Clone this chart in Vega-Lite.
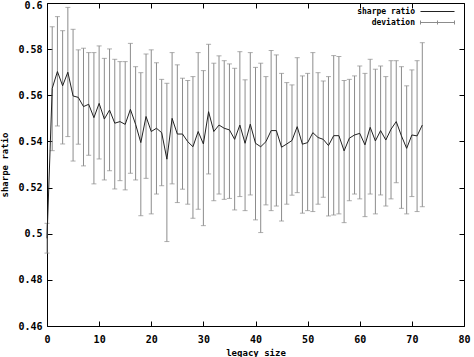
{
  "$schema": "https://vega.github.io/schema/vega-lite/v6.json",
  "width": 417,
  "height": 323,
  "autosize": "none",
  "padding": {"left": 47, "top": 3, "right": 10, "bottom": 31},
  "background": "white",
  "data": {
    "values": [
      {"size": 0, "sharpe": 0.498, "lo": 0.4916, "hi": 0.5045},
      {"size": 1, "sharpe": 0.563, "lo": 0.536, "hi": 0.5897},
      {"size": 2, "sharpe": 0.5703, "lo": 0.5467, "hi": 0.5941},
      {"size": 3, "sharpe": 0.5641, "lo": 0.5389, "hi": 0.588},
      {"size": 4, "sharpe": 0.57, "lo": 0.5421, "hi": 0.5981},
      {"size": 5, "sharpe": 0.5597, "lo": 0.5315, "hi": 0.5886},
      {"size": 6, "sharpe": 0.5591, "lo": 0.5388, "hi": 0.5797},
      {"size": 7, "sharpe": 0.5551, "lo": 0.5294, "hi": 0.5804},
      {"size": 8, "sharpe": 0.5561, "lo": 0.534, "hi": 0.5785},
      {"size": 9, "sharpe": 0.5503, "lo": 0.5216, "hi": 0.5785},
      {"size": 10, "sharpe": 0.5565, "lo": 0.5324, "hi": 0.5814},
      {"size": 11, "sharpe": 0.5497, "lo": 0.5233, "hi": 0.576},
      {"size": 12, "sharpe": 0.5536, "lo": 0.5273, "hi": 0.5801},
      {"size": 13, "sharpe": 0.5479, "lo": 0.5194, "hi": 0.5756},
      {"size": 14, "sharpe": 0.5486, "lo": 0.523, "hi": 0.5746},
      {"size": 15, "sharpe": 0.5474, "lo": 0.519, "hi": 0.5746},
      {"size": 16, "sharpe": 0.5539, "lo": 0.5262, "hi": 0.5825},
      {"size": 17, "sharpe": 0.5474, "lo": 0.5233, "hi": 0.5724},
      {"size": 18, "sharpe": 0.5395, "lo": 0.5078, "hi": 0.5698},
      {"size": 19, "sharpe": 0.5508, "lo": 0.524, "hi": 0.5779},
      {"size": 20, "sharpe": 0.5443, "lo": 0.5086, "hi": 0.5797},
      {"size": 21, "sharpe": 0.5457, "lo": 0.5172, "hi": 0.5741},
      {"size": 22, "sharpe": 0.5438, "lo": 0.5208, "hi": 0.5669},
      {"size": 23, "sharpe": 0.5323, "lo": 0.4966, "hi": 0.5652},
      {"size": 24, "sharpe": 0.55, "lo": 0.5216, "hi": 0.5785},
      {"size": 25, "sharpe": 0.5432, "lo": 0.5135, "hi": 0.5732},
      {"size": 26, "sharpe": 0.5432, "lo": 0.5193, "hi": 0.5674},
      {"size": 27, "sharpe": 0.5399, "lo": 0.5128, "hi": 0.5664},
      {"size": 28, "sharpe": 0.5377, "lo": 0.5067, "hi": 0.5681},
      {"size": 29, "sharpe": 0.5443, "lo": 0.5106, "hi": 0.5785},
      {"size": 30, "sharpe": 0.5389, "lo": 0.5035, "hi": 0.5707},
      {"size": 31, "sharpe": 0.5529, "lo": 0.5259, "hi": 0.5821},
      {"size": 32, "sharpe": 0.5443, "lo": 0.5143, "hi": 0.5739},
      {"size": 33, "sharpe": 0.5471, "lo": 0.5172, "hi": 0.5771},
      {"size": 34, "sharpe": 0.5457, "lo": 0.5149, "hi": 0.575},
      {"size": 35, "sharpe": 0.545, "lo": 0.5153, "hi": 0.5736},
      {"size": 36, "sharpe": 0.5409, "lo": 0.5103, "hi": 0.5717},
      {"size": 37, "sharpe": 0.5471, "lo": 0.5161, "hi": 0.5789},
      {"size": 38, "sharpe": 0.5392, "lo": 0.51, "hi": 0.5667},
      {"size": 39, "sharpe": 0.5475, "lo": 0.5168, "hi": 0.5785},
      {"size": 40, "sharpe": 0.5392, "lo": 0.506, "hi": 0.5721},
      {"size": 41, "sharpe": 0.5377, "lo": 0.5005, "hi": 0.5739},
      {"size": 42, "sharpe": 0.5399, "lo": 0.5125, "hi": 0.5681},
      {"size": 43, "sharpe": 0.5447, "lo": 0.51, "hi": 0.5794},
      {"size": 44, "sharpe": 0.5447, "lo": 0.512, "hi": 0.5775},
      {"size": 45, "sharpe": 0.5375, "lo": 0.5055, "hi": 0.5695},
      {"size": 46, "sharpe": 0.5389, "lo": 0.5128, "hi": 0.5655},
      {"size": 47, "sharpe": 0.5404, "lo": 0.5167, "hi": 0.5645},
      {"size": 48, "sharpe": 0.5464, "lo": 0.5178, "hi": 0.5763},
      {"size": 49, "sharpe": 0.5388, "lo": 0.5089, "hi": 0.5684},
      {"size": 50, "sharpe": 0.5395, "lo": 0.51, "hi": 0.5695},
      {"size": 51, "sharpe": 0.5438, "lo": 0.5096, "hi": 0.5785},
      {"size": 52, "sharpe": 0.5417, "lo": 0.5128, "hi": 0.5698},
      {"size": 53, "sharpe": 0.5409, "lo": 0.5158, "hi": 0.5662},
      {"size": 54, "sharpe": 0.5382, "lo": 0.5077, "hi": 0.5681},
      {"size": 55, "sharpe": 0.5425, "lo": 0.5081, "hi": 0.5772},
      {"size": 56, "sharpe": 0.5425, "lo": 0.5086, "hi": 0.5768},
      {"size": 57, "sharpe": 0.5359, "lo": 0.5048, "hi": 0.5664},
      {"size": 58, "sharpe": 0.5414, "lo": 0.5143, "hi": 0.5669},
      {"size": 59, "sharpe": 0.5428, "lo": 0.5172, "hi": 0.5684},
      {"size": 60, "sharpe": 0.5435, "lo": 0.5151, "hi": 0.5727},
      {"size": 61, "sharpe": 0.5385, "lo": 0.5074, "hi": 0.5695},
      {"size": 62, "sharpe": 0.5461, "lo": 0.5172, "hi": 0.5756},
      {"size": 63, "sharpe": 0.5402, "lo": 0.5086, "hi": 0.5713},
      {"size": 64, "sharpe": 0.5447, "lo": 0.5168, "hi": 0.5727},
      {"size": 65, "sharpe": 0.5406, "lo": 0.512, "hi": 0.5681},
      {"size": 66, "sharpe": 0.5453, "lo": 0.5151, "hi": 0.575},
      {"size": 67, "sharpe": 0.5486, "lo": 0.5221, "hi": 0.575},
      {"size": 68, "sharpe": 0.5424, "lo": 0.511, "hi": 0.5724},
      {"size": 69, "sharpe": 0.537, "lo": 0.5086, "hi": 0.5641},
      {"size": 70, "sharpe": 0.5428, "lo": 0.5161, "hi": 0.571},
      {"size": 71, "sharpe": 0.5424, "lo": 0.5096, "hi": 0.575},
      {"size": 72, "sharpe": 0.5471, "lo": 0.5117, "hi": 0.5828}
    ]
  },
  "layer": [
    {
      "mark": {"type": "errorbar", "ticks": {"size": 5, "thickness": 1}, "thickness": 1},
      "encoding": {
        "x": {"field": "size", "type": "quantitative", "scale": {"domain": [0, 80], "nice": false}, "axis": null},
        "y": {"field": "lo", "type": "quantitative", "scale": {"domain": [0.46, 0.6], "nice": false, "zero": false}, "axis": null},
        "y2": {"field": "hi"},
        "color": {"datum": "deviation", "type": "nominal"}
      }
    },
    {
      "mark": {"type": "line", "strokeWidth": 1},
      "encoding": {
        "x": {
          "field": "size", "type": "quantitative",
          "axis": {"orient": "bottom", "values": [0, 10, 20, 30, 40, 50, 60, 70, 80], "labelPadding": 13, "labelFlush": false, "title": "legacy size", "titlePadding": 4}
        },
        "y": {
          "field": "sharpe", "type": "quantitative",
          "axis": {"orient": "left", "values": [0.46, 0.48, 0.5, 0.52, 0.54, 0.56, 0.58, 0.6], "format": ".2~f", "labelPadding": 10, "labelFlush": false, "labelOffset": {"condition": {"test": "datum.value >= 0.599", "value": 2}, "value": 0}, "title": "sharpe ratio", "titlePadding": 8}
        },
        "color": {
          "datum": "sharpe ratio", "type": "nominal",
          "scale": {"domain": ["sharpe ratio", "deviation"], "range": ["#222222", "#8c8c8c"]},
          "legend": {
            "title": null,
            "orient": "none",
            "legendX": 385,
            "legendY": 3,
            "padding": 0,
            "symbolType": "M-3.4,0H3.4",
            "symbolSize": 100,
            "symbolStrokeWidth": 1,
            "symbolStrokeColor": "#555555",
            "symbolFillColor": "transparent",
            "labelAlign": "right",
            "labelOffset": -28,
            "labelFont": "DejaVu Sans Mono",
            "labelFontWeight": "bold",
            "labelFontSize": 8,
            "labelColor": "black",
            "rowPadding": 1,
            "encode": {
              "symbols": {
                "update": {
                  "shape": {"signal": "datum.value === 'deviation' ? 'M-3.4,0H3.4M-3.4,-0.4V0.4M3.4,-0.4V0.4M0,-0.4V0.4' : 'M-3.4,0H3.4'"}
                }
              }
            }
          }
        }
      }
    },
    {
      "mark": {"type": "point", "opacity": 0},
      "encoding": {
        "x": {"field": "size", "type": "quantitative", "axis": {"orient": "top", "values": [0, 10, 20, 30, 40, 50, 60, 70, 80], "labels": false, "title": null}},
        "y": {"field": "sharpe", "type": "quantitative", "axis": {"orient": "right", "values": [0.46, 0.48, 0.5, 0.52, 0.54, 0.56, 0.58, 0.6], "labels": false, "title": null}}
      }
    }
  ],
  "resolve": {"axis": {"x": "independent", "y": "independent"}},
  "config": {
    "view": {"stroke": "black", "strokeWidth": 1},
    "axis": {
      "grid": false,
      "domain": false,
      "tickSize": -5,
      "tickColor": "black",
      "tickWidth": 1,
      "labelOverlap": false,
      "labelFont": "DejaVu Sans Mono",
      "labelFontWeight": "bold",
      "labelFontSize": 10,
      "labelColor": "black",
      "titleFont": "DejaVu Sans Mono",
      "titleFontWeight": "bold",
      "titleFontSize": 9,
      "titleColor": "black"
    }
  }
}
